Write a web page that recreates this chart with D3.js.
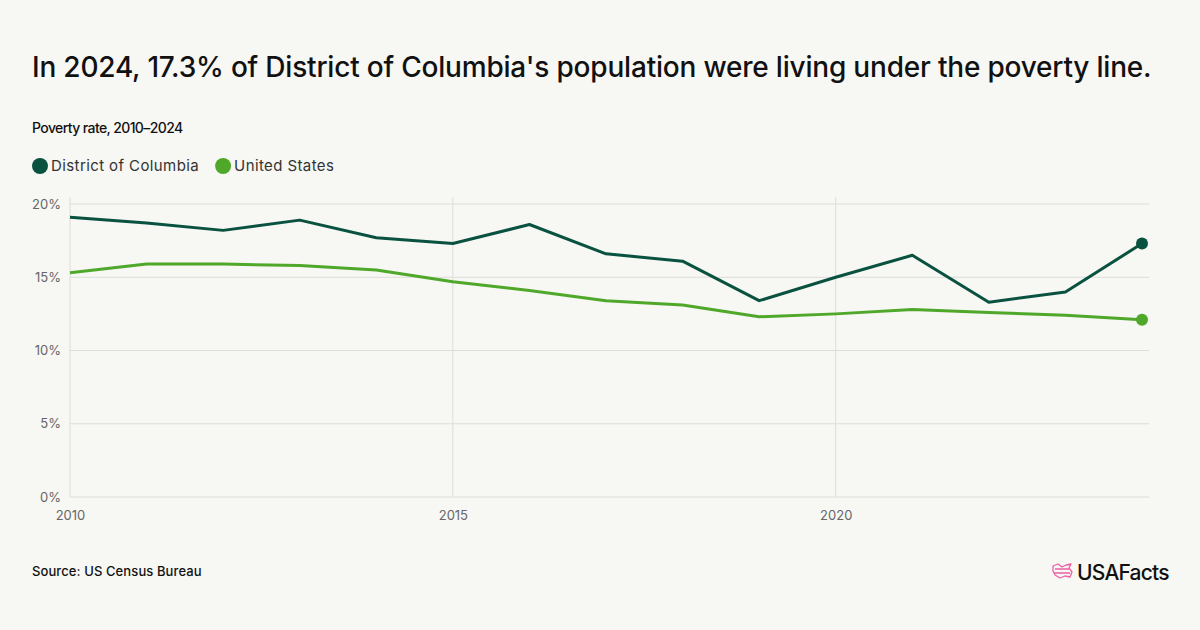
<!DOCTYPE html>
<html>
<head>
<meta charset="utf-8">
<script src="https://cdn.jsdelivr.net/npm/d3@7"></script>
<style>
  html, body { margin: 0; padding: 0; background: #f7f7f3; }
  svg { display: block; font-family: Inter, "Noto Sans", sans-serif; }
</style>
</head>
<body>
<svg id="chart" width="1200" height="630"></svg>
<script>
const years = [2010, 2011, 2012, 2013, 2014, 2015, 2016, 2017, 2018, 2019, 2020, 2021, 2022, 2023, 2024];
const dcValues = [19.1, 18.7, 18.2, 18.9, 17.7, 17.3, 18.6, 16.6, 16.1, 13.4, 15.0, 16.5, 13.3, 14.0, 17.3];
const usValues = [15.3, 15.9, 15.9, 15.8, 15.5, 14.7, 14.1, 13.4, 13.1, 12.3, 12.5, 12.8, 12.6, 12.4, 12.1];
const yTicks = [0, 5, 10, 15, 20];
const xTicks = [2010, 2015, 2020];

const seriesList = [
    { name: "District of Columbia", values: dcValues, color: "#0a5240" },
    { name: "United States", values: usValues, color: "#4fa82a" }
];

const svg = d3.select("#chart");

const margin = { top: 204, right: 51, bottom: 133, left: 70 },
    width = 1200 - margin.left - margin.right,
    height = 630 - margin.top - margin.bottom;

// title block
svg.append("text")
    .attr("x", 32).attr("y", 77)
    .attr("font-size", 28).attr("font-weight", 500)
    .attr("letter-spacing", -0.2)
    .attr("fill", "#111")
    .text("In 2024, 17.3% of District of Columbia's population were living under the poverty line.");

svg.append("text")
    .attr("x", 32).attr("y", 133)
    .attr("font-size", 14).attr("font-weight", 500)
    .attr("letter-spacing", -0.6)
    .attr("fill", "#111")
    .text("Poverty rate, 2010\u20132024");

// legend
const legend = svg.append("g").attr("transform", "translate(32,166)");
let lx = 0;
seriesList.forEach(s => {
    legend.append("circle").attr("cx", lx + 8).attr("cy", 0).attr("r", 8).attr("fill", s.color);
    const t = legend.append("text")
        .attr("x", lx + 19).attr("y", 5)
        .attr("font-size", 15).attr("fill", "#333")
        .attr("letter-spacing", 0.4)
        .text(s.name);
    lx += 19 + t.node().getComputedTextLength() + 16;
});

const chart = svg.append("g").attr("transform", `translate(${margin.left},${margin.top})`);

const x = d3.scaleLinear()
    .domain([2010, 2024])
    .range([0, width - 7]);

const y = d3.scaleLinear()
    .domain([0, 20])
    .range([height, 0]);

// gridlines
chart.append("g")
    .selectAll("line")
    .data(yTicks)
    .join("line")
    .attr("x1", 0).attr("x2", width)
    .attr("y1", d => y(d)).attr("y2", d => y(d))
    .attr("stroke", "#dcdcda").attr("stroke-width", 1);

chart.append("g")
    .selectAll("line")
    .data(xTicks)
    .join("line")
    .attr("x1", d => x(d)).attr("x2", d => x(d))
    .attr("y1", -7).attr("y2", height)
    .attr("stroke", "#dcdcda").attr("stroke-width", 1);

// axes
const yAxis = chart.append("g")
    .call(d3.axisLeft(y).tickValues(yTicks).tickFormat(d => d + "%").tickSize(0).tickPadding(9));
yAxis.select(".domain").remove();
yAxis.selectAll("text")
    .attr("font-size", 13).attr("fill", "#666").attr("font-family", "Inter, sans-serif");

const xAxis = chart.append("g")
    .attr("transform", `translate(0,${height})`)
    .call(d3.axisBottom(x).tickValues(xTicks).tickFormat(d3.format("d")).tickSize(0).tickPadding(14));
xAxis.select(".domain").remove();
xAxis.selectAll("text")
    .attr("font-size", 13).attr("fill", "#666").attr("font-family", "Inter, sans-serif");

// lines
const line = d3.line()
    .x((d, i) => x(years[i]))
    .y(d => y(d));

seriesList.slice().reverse().forEach(s => {
    chart.append("path")
        .datum(s.values)
        .attr("fill", "none")
        .attr("stroke", s.color)
        .attr("stroke-width", 3)
        .attr("stroke-linejoin", "round")
        .attr("d", line);

    chart.append("circle")
        .attr("cx", x(years[years.length - 1]))
        .attr("cy", y(s.values[s.values.length - 1]))
        .attr("r", 6)
        .attr("fill", s.color);
});

// footer
svg.append("text")
    .attr("x", 32).attr("y", 576)
    .attr("font-size", 13).attr("font-weight", 500)
    .attr("letter-spacing", 0.1)
    .attr("fill", "#111")
    .text("Source: US Census Bureau");

const logo = svg.append("g").attr("transform", "translate(1052,563)");
logo.append("path")
    .attr("d", "M1,3 L6,1 L10,4 L14,2 L19,1 L17,5 L20,9 L18,14 L13,13 L8,15 L3,12 L1,8 Z M3,6 L17,6 M2,10 L18,10")
    .attr("fill", "none").attr("stroke", "#ee5fa7").attr("stroke-width", 1.3)
    .attr("stroke-linejoin", "round");
svg.append("text")
    .attr("x", 1077).attr("y", 580)
    .attr("font-size", 21).attr("font-weight", 500)
    .attr("letter-spacing", -0.8)
    .attr("fill", "#111")
    .text("USAFacts");
</script>
</body>
</html>
